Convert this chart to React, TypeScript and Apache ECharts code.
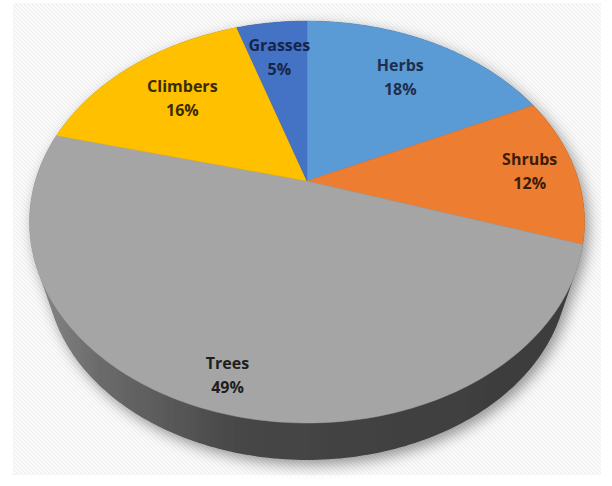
import React, { useEffect, useRef } from "react";
import * as echarts from "echarts";

const CATEGORIES = ["Herbs", "Shrubs", "Trees", "Climbers", "Grasses"];
const SHARES = [18, 12, 49, 16, 5];
const COLORS = ["#5B9BD5", "#ED7D31", "#A5A5A5", "#FFC000", "#4472C4"];
const LABEL_COLORS = ["#1E2F4D", "#3D1C08", "#1E1E1E", "#3A2C00", "#16254A"];

// layout of the projected (3D perspective) pie
const CX = 307;
const CY = 181;
const FX = 271.7;
const GY = 192.6;
const K = 0.204;
const BOTTOM_SCALE = 0.94;
const BOTTOM_DROP = 51.5;
const LABEL_R = [0.72, 0.83, 0.87, 0.69, 0.75];

function proj(r: number, deg: number): [number, number] {
  const t = (deg * Math.PI) / 180;
  const u = r * Math.sin(t);
  const v = r * Math.cos(t);
  const w = 1 + K * v;
  return [CX + (FX * u) / w, CY - (GY * v) / w];
}

function projBottom(deg: number): [number, number] {
  const [x, y] = proj(1, deg);
  return [CX + BOTTOM_SCALE * (x - CX), CY + BOTTOM_SCALE * (y - CY) + BOTTOM_DROP];
}

function hull(points: [number, number][]): [number, number][] {
  const p = points.slice().sort((a, b) => (a[0] === b[0] ? a[1] - b[1] : a[0] - b[0]));
  const cross = (o: number[], a: number[], b: number[]) =>
    (a[0] - o[0]) * (b[1] - o[1]) - (a[1] - o[1]) * (b[0] - o[0]);
  const lower: [number, number][] = [];
  for (const pt of p) {
    while (lower.length >= 2 && cross(lower[lower.length - 2], lower[lower.length - 1], pt) <= 0) lower.pop();
    lower.push(pt);
  }
  const upper: [number, number][] = [];
  for (let i = p.length - 1; i >= 0; i--) {
    const pt = p[i];
    while (upper.length >= 2 && cross(upper[upper.length - 2], upper[upper.length - 1], pt) <= 0) upper.pop();
    upper.push(pt);
  }
  upper.pop();
  lower.pop();
  return lower.concat(upper);
}

function makePattern(): any {
  const c = document.createElement("canvas");
  c.width = 4;
  c.height = 4;
  const ctx = c.getContext("2d");
  if (ctx) {
    ctx.fillStyle = "#fafafa";
    ctx.fillRect(0, 0, 4, 4);
    ctx.fillStyle = "#ececec";
    for (let i = 0; i < 4; i++) ctx.fillRect(i, i, 1, 1);
  }
  return { image: c, repeat: "repeat", imageWidth: 4, imageHeight: 4 };
}

export default function App() {
  const ref = useRef<HTMLDivElement>(null);

  useEffect(() => {
    document.body.style.margin = "0";
    if (!ref.current) return;
    const chart = echarts.init(ref.current, undefined, { renderer: "svg" });

    const total = SHARES.reduce((a, b) => a + b, 0);
    const starts: number[] = [];
    let acc = 0;
    SHARES.forEach((v) => {
      starts.push(acc);
      acc += v;
    });
    const sliceData = SHARES.map((v, i) => ({ name: CATEGORIES[i], value: [v, starts[i]] }));

    const option: any = {
      animation: false,
      backgroundColor: "#ffffff",
      graphic: [
        {
          type: "rect",
          z: -10,
          silent: true,
          shape: { x: 13, y: 3, width: 588, height: 472 },
          style: { fill: makePattern() },
        },
      ],
      series: [
        {
          type: "custom",
          name: "side",
          coordinateSystem: "none",
          silent: true,
          z: 1,
          data: [[total]],
          renderItem: () => {
            const pts: [number, number][] = [];
            for (let d = 0; d < 360; d += 1) {
              pts.push(proj(1, d));
              pts.push(projBottom(d));
            }
            return {
              type: "polygon",
              shape: { points: hull(pts) },
              style: {
                fill: new echarts.graphic.LinearGradient(0, 0, 1, 0, [
                  { offset: 0, color: "#8a8a8a" },
                  { offset: 0.12, color: "#6c6c6c" },
                  { offset: 0.38, color: "#464646" },
                  { offset: 1, color: "#3b3b3b" },
                ]),
                shadowBlur: 14,
                shadowColor: "rgba(0,0,0,0.4)",
                shadowOffsetX: 4,
                shadowOffsetY: 5,
              },
            };
          },
        },
        {
          type: "custom",
          name: "Share",
          coordinateSystem: "none",
          z: 2,
          data: sliceData,
          renderItem: (params: any, api: any) => {
            const i = params.dataIndex;
            const val = api.value(0);
            const start = api.value(1);
            const a0 = (start / total) * 360;
            const a1 = ((start + val) / total) * 360;
            const pts: [number, number][] = [proj(0, 0)];
            const n = Math.max(2, Math.ceil(a1 - a0));
            for (let k = 0; k <= n; k++) pts.push(proj(1, a0 + ((a1 - a0) * k) / n));
            const [lx, ly] = proj(LABEL_R[i], (a0 + a1) / 2);
            return {
              type: "group",
              children: [
                {
                  type: "polygon",
                  shape: { points: pts },
                  style: { fill: COLORS[i], stroke: COLORS[i], lineWidth: 0.5 },
                },
                {
                  type: "text",
                  x: lx,
                  y: ly,
                  style: {
                    text: `${CATEGORIES[i]}\n${val}%`,
                    fill: LABEL_COLORS[i],
                    fontFamily: "Open Sans",
                    fontWeight: "bold",
                    fontSize: 16,
                    lineHeight: 24,
                    align: "center",
                    verticalAlign: "middle",
                  },
                },
              ],
            };
          },
        },
      ],
    };

    chart.setOption(option);
    return () => chart.dispose();
  }, []);

  return <div ref={ref} style={{ width: 612, height: 486 }} />;
}
